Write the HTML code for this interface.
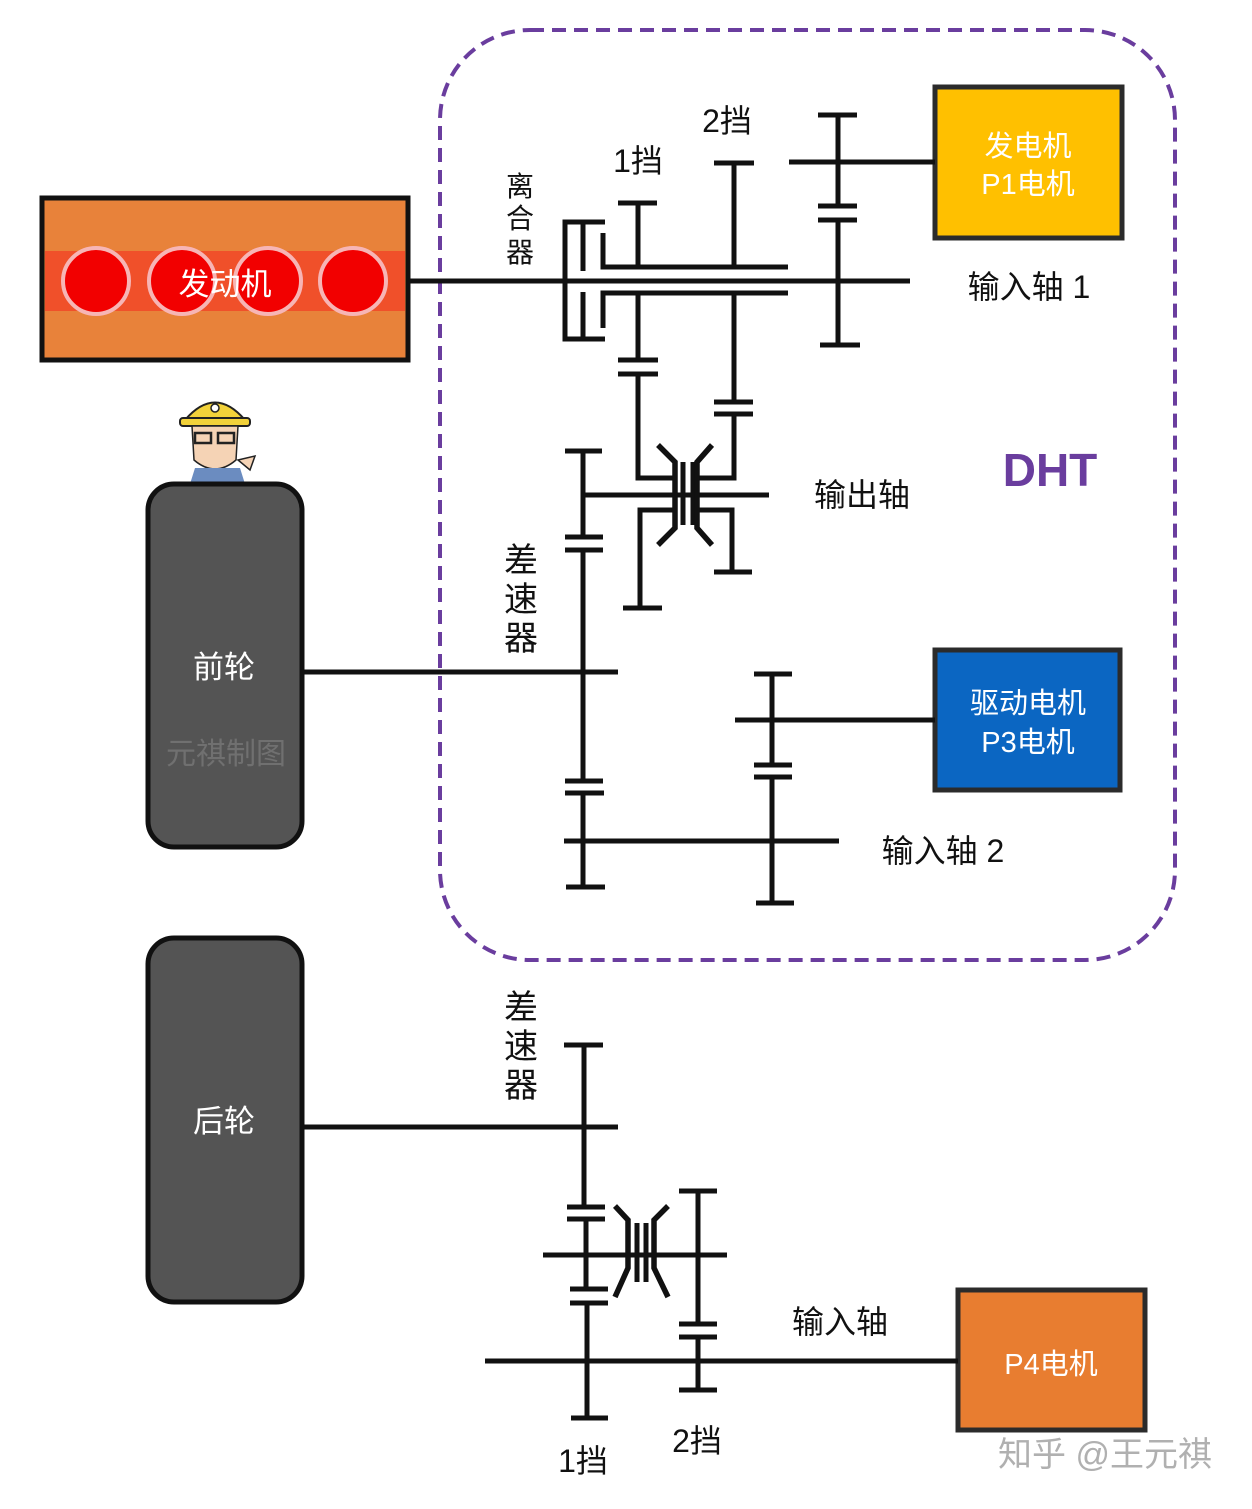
<!DOCTYPE html>
<html><head><meta charset="utf-8"><style>
html,body{margin:0;padding:0;background:#fff;}
svg text{font-family:"Liberation Sans","Noto Sans CJK SC",sans-serif;}
</style></head><body>
<svg width="1252" height="1504" viewBox="0 0 1252 1504" xmlns="http://www.w3.org/2000/svg">
<rect width="1252" height="1504" fill="#fff"/>
<rect x="440" y="30" width="735" height="930" rx="90" fill="none" stroke="#6a3d9e" stroke-width="4" stroke-dasharray="14 8"/>
<text x="1050" y="486" font-size="46" font-weight="bold" fill="#6a3d9e" text-anchor="middle">DHT</text>

<rect x="42" y="198" width="366" height="162" fill="#e8823a" stroke="#111" stroke-width="5"/>
<rect x="45" y="251" width="360" height="60" fill="#f0502a"/>
<g fill="#f20000" stroke="#f7b5b5" stroke-width="4">
<circle cx="96" cy="281" r="33"/><circle cx="182" cy="281" r="33"/><circle cx="268" cy="281" r="33"/><circle cx="353" cy="281" r="33"/>
</g>
<text x="225" y="295" font-size="31" fill="#fff" text-anchor="middle">发动机</text>

<g>
<path d="M185 420 Q215 385 245 420 Z" fill="#f2d23a" stroke="#222" stroke-width="2"/>
<rect x="180" y="418" width="70" height="8" rx="3" fill="#f2d23a" stroke="#222" stroke-width="2"/>
<circle cx="215" cy="408" r="4" fill="#fff" stroke="#222" stroke-width="1.5"/>
<path d="M192 426 L238 426 L236 460 Q215 478 194 460 Z" fill="#f5d3b5" stroke="#222" stroke-width="1.5"/>
<rect x="195" y="433" width="16" height="10" fill="none" stroke="#222" stroke-width="2.5"/>
<rect x="218" y="433" width="16" height="10" fill="none" stroke="#222" stroke-width="2.5"/>
<path d="M195 468 L240 468 L245 484 L190 484 Z" fill="#6b8cc0"/>
<path d="M238 460 L255 456 L250 470 Z" fill="#f5d3b5" stroke="#222" stroke-width="1.5"/>
</g>

<rect x="148" y="484" width="154" height="363" rx="26" fill="#545454" stroke="#111" stroke-width="5"/>
<text x="224" y="678" font-size="31" fill="#fff" text-anchor="middle">前轮</text>
<text x="226" y="764" font-size="30" fill="#707070" text-anchor="middle">元祺制图</text>
<rect x="148" y="938" width="154" height="364" rx="26" fill="#545454" stroke="#111" stroke-width="5"/>
<text x="224" y="1132" font-size="31" fill="#fff" text-anchor="middle">后轮</text>

<rect x="935" y="87" width="187" height="151" fill="#ffc000" stroke="#2b2b2b" stroke-width="5"/>
<text x="1028" y="156" font-size="29" fill="#fff" text-anchor="middle">发电机</text>
<text x="1028" y="194" font-size="29" fill="#fff" text-anchor="middle">P1电机</text>
<rect x="935" y="650" width="185" height="140" fill="#0b66c2" stroke="#2b2b2b" stroke-width="5"/>
<text x="1028" y="713" font-size="29" fill="#fff" text-anchor="middle">驱动电机</text>
<text x="1028" y="752" font-size="29" fill="#fff" text-anchor="middle">P3电机</text>
<rect x="958" y="1290" width="187" height="140" fill="#e87d30" stroke="#2b2b2b" stroke-width="5"/>
<text x="1051" y="1374" font-size="29" fill="#fff" text-anchor="middle">P4电机</text>

<g stroke="#111" stroke-width="5" fill="none" stroke-linecap="butt">
<line x1="408" y1="281" x2="910" y2="281"/>
<polyline points="605,222 565,222 565,339 605,339"/>
<line x1="583" y1="222" x2="583" y2="271"/>
<line x1="583" y1="292" x2="583" y2="339"/>
<polyline points="603,233 603,267 788,267"/>
<polyline points="603,328 603,293 788,293"/>
<line x1="618" y1="203" x2="657" y2="203"/><line x1="638" y1="203" x2="638" y2="267"/>
<line x1="638" y1="293" x2="638" y2="360"/>
<line x1="618" y1="360" x2="658" y2="360"/><line x1="618" y1="374" x2="658" y2="374"/>
<polyline points="638,374 638,478 675,478"/>
<line x1="714" y1="163" x2="754" y2="163"/><line x1="734" y1="163" x2="734" y2="267"/>
<line x1="734" y1="293" x2="734" y2="402"/>
<line x1="714" y1="402" x2="753" y2="402"/><line x1="714" y1="414" x2="753" y2="414"/>
<polyline points="734,414 734,478 697,478"/>
<line x1="818" y1="115" x2="857" y2="115"/>
<line x1="789" y1="162" x2="935" y2="162"/>
<line x1="838" y1="115" x2="838" y2="206"/>
<line x1="818" y1="206" x2="857" y2="206"/><line x1="818" y1="220" x2="857" y2="220"/>
<line x1="838" y1="220" x2="838" y2="345"/>
<line x1="820" y1="345" x2="860" y2="345"/>
<line x1="585" y1="495" x2="769" y2="495"/>
<line x1="683" y1="462" x2="683" y2="525"/><line x1="693" y1="462" x2="693" y2="525"/>
<polyline points="658,445 675,462 675,528 658,545" stroke-width="5.5"/>
<polyline points="712,445 697,462 697,528 712,545" stroke-width="5.5"/>
<polyline points="675,510 640,510 640,608"/>
<line x1="623" y1="608" x2="662" y2="608"/>
<polyline points="697,510 732,510 732,572"/>
<line x1="714" y1="572" x2="752" y2="572"/>
<line x1="565" y1="451" x2="602" y2="451"/>
<line x1="583" y1="451" x2="583" y2="537"/>
<line x1="565" y1="537" x2="603" y2="537"/><line x1="565" y1="550" x2="603" y2="550"/>
<line x1="583" y1="550" x2="583" y2="781"/>
<line x1="303" y1="672" x2="618" y2="672"/>
<line x1="565" y1="781" x2="603" y2="781"/><line x1="565" y1="793" x2="604" y2="793"/>
<line x1="583" y1="793" x2="583" y2="887"/>
<line x1="566" y1="887" x2="605" y2="887"/>
<line x1="564" y1="841" x2="839" y2="841"/>
<line x1="754" y1="674" x2="792" y2="674"/>
<line x1="735" y1="720" x2="935" y2="720"/>
<line x1="772" y1="674" x2="772" y2="765"/>
<line x1="754" y1="765" x2="792" y2="765"/><line x1="754" y1="777" x2="792" y2="777"/>
<line x1="772" y1="777" x2="772" y2="903"/>
<line x1="756" y1="903" x2="794" y2="903"/>
<line x1="564" y1="1045" x2="603" y2="1045"/>
<line x1="584" y1="1045" x2="584" y2="1207"/>
<line x1="303" y1="1127" x2="618" y2="1127"/>
<line x1="567" y1="1207" x2="605" y2="1207"/><line x1="567" y1="1219" x2="605" y2="1219"/>
<line x1="586" y1="1219" x2="586" y2="1289"/>
<line x1="543" y1="1255" x2="727" y2="1255"/>
<line x1="570" y1="1289" x2="608" y2="1289"/><line x1="570" y1="1303" x2="608" y2="1303"/>
<line x1="587" y1="1303" x2="587" y2="1418"/>
<line x1="571" y1="1418" x2="608" y2="1418"/>
<line x1="485" y1="1361" x2="958" y2="1361"/>
<line x1="679" y1="1191" x2="717" y2="1191"/>
<line x1="698" y1="1191" x2="698" y2="1324"/>
<line x1="679" y1="1324" x2="717" y2="1324"/><line x1="679" y1="1337" x2="717" y2="1337"/>
<line x1="698" y1="1337" x2="698" y2="1390"/>
<line x1="679" y1="1390" x2="717" y2="1390"/>
<line x1="637" y1="1223" x2="637" y2="1282"/><line x1="646" y1="1223" x2="646" y2="1282"/>
<polyline points="615,1206 628,1220 628,1268 615,1297" stroke-width="5.5"/>
<polyline points="668,1206 654,1220 654,1268 668,1297" stroke-width="5.5"/>
</g>

<g fill="#111" font-size="32">
<text x="520" y="196" font-size="28" text-anchor="middle">离</text>
<text x="520" y="228" font-size="28" text-anchor="middle">合</text>
<text x="520" y="262" font-size="28" text-anchor="middle">器</text>
<text x="638" y="172" text-anchor="middle">1挡</text>
<text x="727" y="132" text-anchor="middle">2挡</text>
<text x="1029" y="298" text-anchor="middle">输入轴 1</text>
<text x="862" y="506" text-anchor="middle">输出轴</text>
<text x="521" y="572" font-size="34" text-anchor="middle">差</text>
<text x="521" y="611" font-size="34" text-anchor="middle">速</text>
<text x="521" y="650" font-size="34" text-anchor="middle">器</text>
<text x="943" y="862" text-anchor="middle">输入轴 2</text>
<text x="521" y="1019" font-size="34" text-anchor="middle">差</text>
<text x="521" y="1058" font-size="34" text-anchor="middle">速</text>
<text x="521" y="1097" font-size="34" text-anchor="middle">器</text>
<text x="840" y="1333" text-anchor="middle">输入轴</text>
<text x="583" y="1472" text-anchor="middle">1挡</text>
<text x="697" y="1452" text-anchor="middle">2挡</text>
</g>
<text x="1105" y="1466" font-size="34" fill="#b0b0b0" text-anchor="middle">知乎 @王元祺</text>
</svg>
</body></html>
